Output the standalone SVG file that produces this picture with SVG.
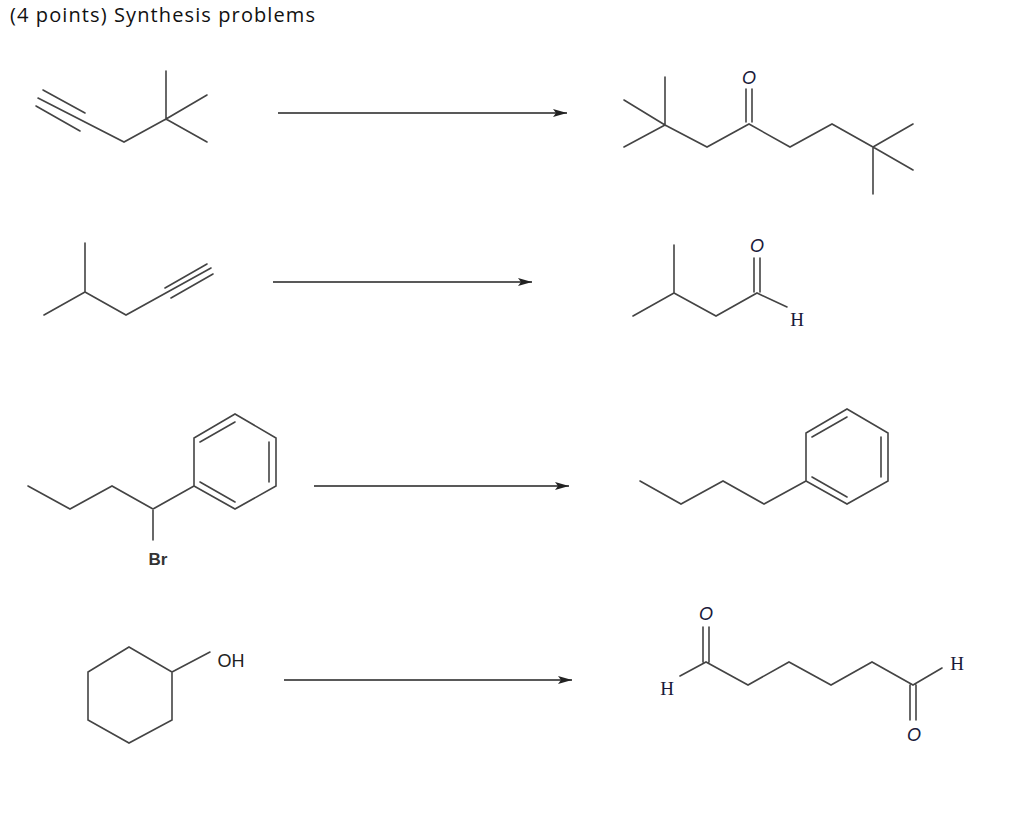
<svg xmlns="http://www.w3.org/2000/svg" width="1024" height="829" viewBox="0 0 1024 829">
<style>
.b{stroke:#444;stroke-width:1.6;fill:none;stroke-linecap:round}
.a{stroke:#222;stroke-width:1.6}
.o{font-family:"Liberation Sans",sans-serif;font-style:italic;font-size:18px;fill:#1a1a3a;text-anchor:middle}
.h{font-family:"Liberation Serif",serif;font-size:19px;fill:#1a1a3a;text-anchor:middle}
.t{font-family:"Open Sans","Liberation Sans",sans-serif;font-size:20px;fill:#111}
</style>
<defs><marker id="ar" viewBox="0 0 14 8" refX="14" refY="4" markerWidth="14" markerHeight="8" orient="auto" markerUnits="userSpaceOnUse"><path d="M0,0L14,4L0,8L3,4z" fill="#222"/></marker></defs>
<rect width="1024" height="829" fill="#fff"/>
<text class="t" x="10" y="22" textLength="305" lengthAdjust="spacing">(4 points)  Synthesis problems</text>
<g id="m1">
<path class="b" d="M38,98L124,142L166,119M166,71L166,119L207,95M166,119L207,142M43,90L85,113M36,106L80,131"/>
</g>
<g id="p1">
<path class="b" d="M665,77L665,125L624,100M665,125L624,147M665,125L707,147L749,124L790,147L832,124L873,147L913,124M873,147L913,170M873,147L873,194M746,122L746,89M752,122L752,89"/>
<text class="o" x="749" y="84">O</text>
</g>
<g id="m2">
<path class="b" d="M85,243L85,292L44,315M85,292L126,315L211,268M165,288L207,264M171,298L213,274"/>
</g>
<g id="p2">
<path class="b" d="M674,245L674,293L633,316M674,293L716,316L757,293L787,307M754,292L754,258M760,292L760,258"/>
<text class="o" x="757" y="252">O</text>
<text class="h" x="797" y="326">H</text>
</g>
<g id="m3">
<path class="b" d="M28,486L70,509L112,486L153,509L194,486M153,509L153,540M194,486L194,438L235,414L276,438L276,486L235,509Z M200,442L235,422M269,442L269,482M200,482L235,502"/>
<text x="158" y="565" font-family="Liberation Sans,sans-serif" font-size="17" font-weight="bold" fill="#333" text-anchor="middle">Br</text>
</g>
<g id="p3">
<path class="b" d="M640,481L681,504L723,481L764,504L806,481M806,481L806,433L847,409L888,433L888,481L847,504Z M812,437L847,417M881,437L881,477M812,477L847,497"/>
</g>
<g id="m4">
<path class="b" d="M129,647L172,672L172,720L129,743L88,720L88,672Z M172,672L210,652"/>
<text x="231" y="667" font-family="Liberation Sans,sans-serif" font-size="18" fill="#222" text-anchor="middle">OH</text>
</g>
<g id="p4">
<path class="b" d="M680,676L706,662L748,685L789,662L831,685L872,662L913,685L942,668M703,662L703,627M709,662L709,627M910,685L910,720M916,685L916,720"/>
<text class="o" x="706" y="620">O</text>
<text class="h" x="667" y="695">H</text>
<text class="o" x="914" y="741">O</text>
<text class="h" x="957" y="670">H</text>
</g>
<g id="arrows">
<line class="a" x1="278" y1="113" x2="567" y2="113" marker-end="url(#ar)"/>
<line class="a" x1="273" y1="282" x2="532" y2="282" marker-end="url(#ar)"/>
<line class="a" x1="314" y1="486" x2="569" y2="486" marker-end="url(#ar)"/>
<line class="a" x1="284" y1="680" x2="572" y2="680" marker-end="url(#ar)"/>
</g>
</svg>
